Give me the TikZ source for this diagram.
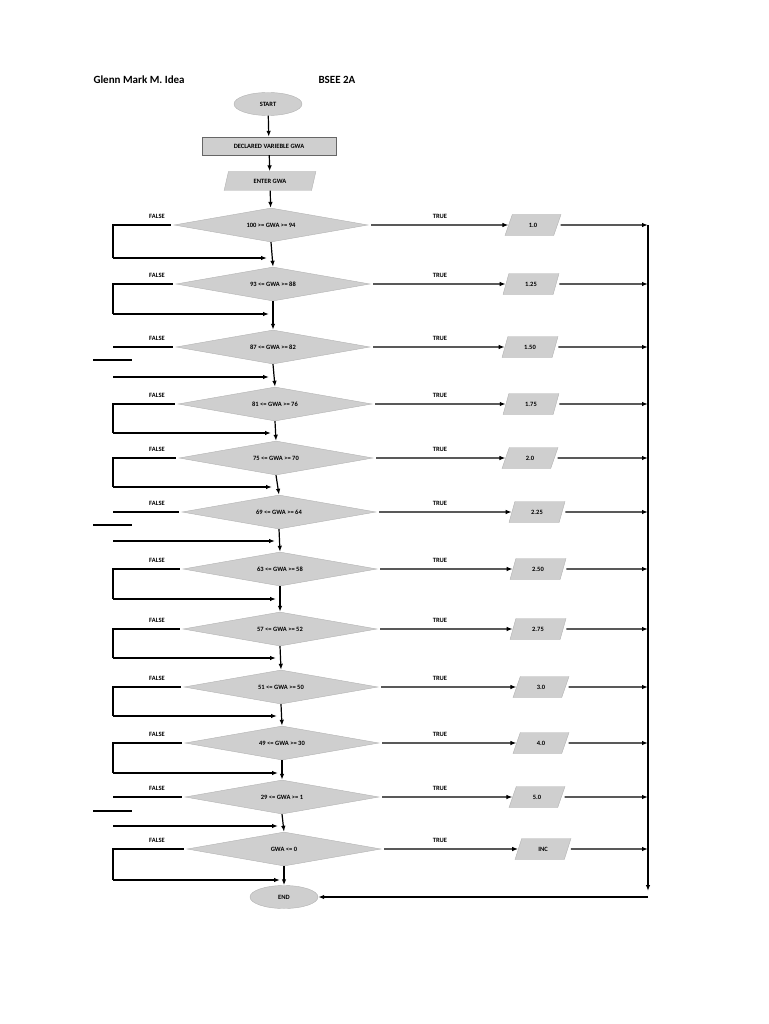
\documentclass[tikz,border=0pt]{standalone}
\usepackage{fontspec}
\setmainfont{Carlito}
\usetikzlibrary{shapes.geometric,arrows.meta}
\begin{document}
\begin{tikzpicture}[x=1pt,y=-1pt,
  shp/.style={fill=gray!38,draw=gray!60,font=\bfseries\fontsize{6.5}{7}\selectfont},
  dec/.style={shp,diamond,aspect=5.6,minimum width=194pt,minimum height=34pt,inner sep=0pt},
  io/.style={shp,trapezium,trapezium left angle=74,trapezium right angle=106,trapezium stretches=true,minimum width=56pt,minimum height=21pt,inner sep=1pt},
  term/.style={shp,ellipse,minimum width=68pt,minimum height=23pt,inner sep=0pt},
  ar/.style={-{Latex[length=6pt,width=4.5pt]},line width=1.2pt},
  ln/.style={line width=1.2pt},
  lab/.style={font=\bfseries\fontsize{6.5}{7}\selectfont}]
\useasboundingbox (0,0) rectangle (768,1024);
\node[font=\bfseries\fontsize{11}{13}\selectfont,anchor=west] (nm) at (90,80) {Glenn Mark M. Idea};
\node[font=\bfseries\fontsize{11}{13}\selectfont,anchor=west] (cl) at (315,80) {BSEE 2A};
\node[term] (start) at (268,104) {START};
\node[shp,minimum width=134pt,minimum height=18pt,inner sep=0pt,draw=gray!80!black] (decl) at (269,146) {DECLARED VARIEBLE GWA};
\node[io,minimum width=92pt,minimum height=19pt] (enter) at (270,181) {ENTER GWA};
\draw[ar] (start) -- (decl);
\draw[ar] (decl) -- (enter);
\foreach \i/\y/\cx/\bx/\ay/\t/\o/\brk in {
 1/225/271/533/258/{100 >= GWA >= 94}/{1.0}/0,
 2/284/273/531/314/{93 <= GWA >= 88}/{1.25}/0,
 3/347/273/530/377/{87 <= GWA >= 82}/{1.50}/360,
 4/404/275/531/433/{81 <= GWA >= 76}/{1.75}/0,
 5/458/276/530/487/{75 <= GWA >= 70}/{2.0}/0,
 6/512/279/537/541/{69 <= GWA >= 64}/{2.25}/525,
 7/569/280/538/599/{63 <= GWA >= 58}/{2.50}/0,
 8/629/280/538/658/{57 <= GWA >= 52}/{2.75}/0,
 9/687/281/541/716/{51 <= GWA >= 50}/{3.0}/0,
 10/743/282/541/773/{49 <= GWA >= 30}/{4.0}/0,
 11/797/282/537/826/{29 <= GWA >= 1}/{5.0}/811,
 12/849/284/543/880/{GWA <= 0}/{INC}/0}{
  \node[dec] (d\i) at (\cx,\y) {\t};
  \node[io] (o\i) at (\bx,\y) {\o};
  \coordinate (r\i) at (648,\y);
  \coordinate (fa\i) at (113,\y);
  \coordinate (fb\i) at (113,\ay);
  \coordinate (fc\i) at (\cx-4,\ay);
  \draw[ar] (d\i.east) ++(3,0) -- (o\i.west);
  \draw[ar] (o\i.east) ++(3,0) -- (r\i);
  \node[lab] (tl\i) at (440,\y-9) {TRUE};
  \node[lab] (fl\i) at (157,\y-9) {FALSE};
  \ifnum\brk=0
    \draw[ln] (d\i.west) ++(-3,0) -- (fa\i) -- (fb\i);
    \draw[ar] (fb\i) -- (fc\i);
  \else
    \coordinate (s1\i) at (93,\brk);
    \coordinate (s2\i) at (132,\brk);
    \draw[ln] (d\i.west) ++(-3,0) -- (fa\i);
    \draw[ln] (s1\i) -- (s2\i);
    \draw[ar] (fb\i) -- (fc\i);
  \fi
}
\draw[ar] (enter) -- (d1);
\foreach \i/\j in {1/2,2/3,3/4,4/5,5/6,6/7,7/8,8/9,9/10,10/11,11/12}{
  \draw[ar] (d\i.south) -- (d\j.north);
}
\node[term] (end) at (284,897) {END};
\draw[ar] (d12.south) -- (end);
\coordinate (rb) at (648,891);
\coordinate (re) at (648,897);
\draw[ar] (r1) -- (rb);
\draw[ar] (re) -- (end);
\end{tikzpicture}
\end{document}
